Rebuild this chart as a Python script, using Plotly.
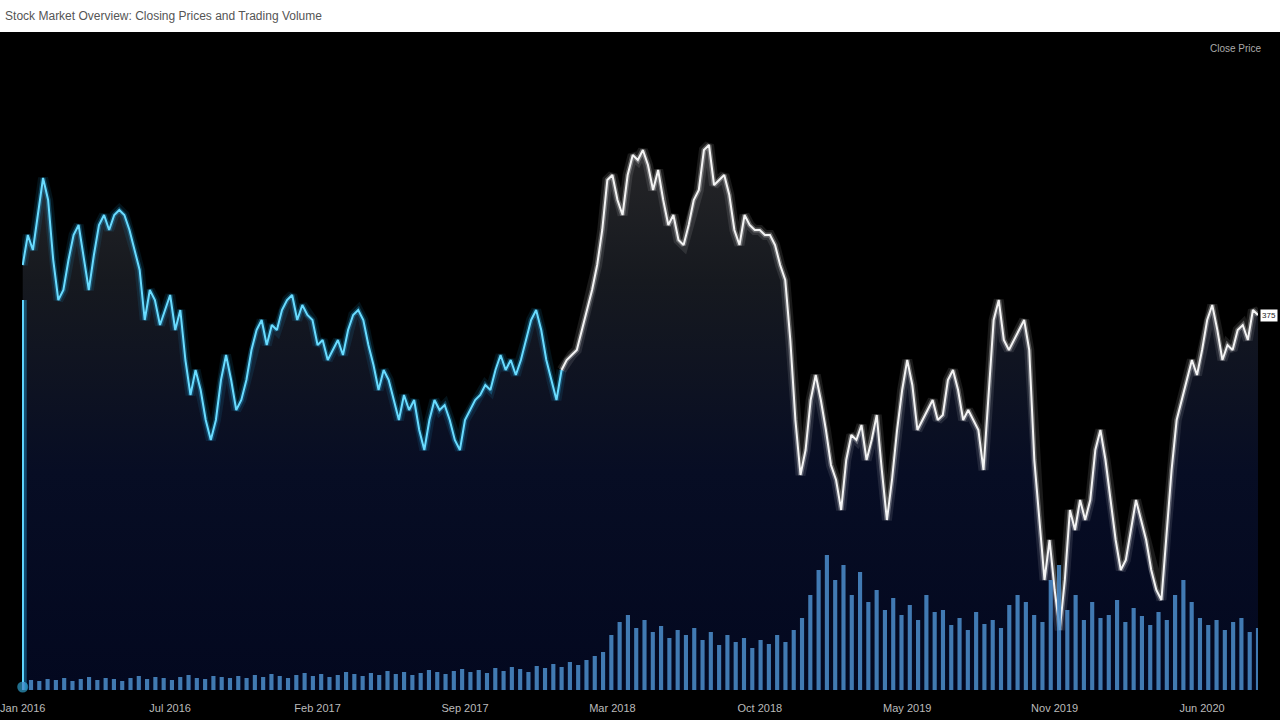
import pandas as pd
import plotly.graph_objects as go

title_text = "Stock Market Overview: Closing Prices and Trading Volume"
legend_text = "Close Price"

price = [
    425, 455, 440, 475, 512, 490, 430, 390, 400, 430, 455, 465, 430, 400, 435, 465, 475, 460, 475, 480,
    475, 460, 440, 420, 370, 400, 390, 365, 380, 395, 360, 380, 330, 295, 320, 300, 270, 250, 270, 310,
    335, 310, 280, 290, 310, 340, 360, 370, 345, 365, 360, 380, 390, 395, 370, 385, 375, 370, 345, 350,
    330, 340, 350, 335, 360, 375, 380, 370, 345, 325, 300, 320, 310, 290, 270, 295, 280, 290, 260, 240,
    270, 290, 280, 285, 270, 250, 240, 270, 280, 290, 295, 305, 300, 320, 335, 320, 330, 315, 330, 350,
    370, 380, 360, 330, 310, 290, 320, 330, 335, 340, 360, 380, 400, 425, 460, 510, 515, 490, 475, 515,
    535, 530, 540, 525, 500, 520, 490, 465, 475, 450, 445, 465, 490, 500, 540, 545, 505, 510, 515, 495,
    460, 445, 475, 465, 460, 460, 455, 455, 445, 425, 410, 350, 270, 215, 240, 290, 315, 290, 260, 225,
    210, 180, 230, 255, 250, 265, 230, 250, 275, 220, 170, 210, 260, 300, 330, 305, 260, 270, 280, 290,
    270, 275, 310, 320, 300, 270, 280, 270, 260, 220, 290, 370, 390, 350, 340, 350, 360, 370, 340, 230,
    170, 110, 150, 100, 60, 110, 180, 160, 190, 170, 190, 240, 260, 230, 190, 150, 120, 130, 160, 190,
    170, 150, 120, 100, 90, 160, 220, 270, 290, 310, 330, 315, 340, 370, 385, 360, 330, 345, 340, 360,
    365, 350, 380, 375,
]

volume = [
    8, 10, 9, 11, 10, 12, 9, 11, 13, 10, 12, 11, 9, 12, 14, 11, 13, 12, 10, 13, 15, 12, 11, 14, 13, 12,
    14, 12, 15, 13, 16, 14, 12, 15, 17, 14, 16, 13, 15, 18, 16, 14, 17, 15, 19, 16, 18, 15, 17, 20, 18,
    16, 19, 21, 18, 20, 17, 22, 19, 23, 21, 18, 24, 22, 26, 23, 28, 25, 30, 34, 38,
    55, 68, 75, 62, 70, 58, 64, 52, 60, 55,
    62, 50, 58, 45, 55, 48, 52, 42, 50, 46,
    55, 48, 60, 72, 95, 120, 135, 110, 125, 95,
    118, 88, 100, 80, 92, 75, 85, 70, 95, 78,
    80, 65, 72, 60, 78, 66, 70, 62, 85, 95,
    88, 75, 68, 110, 125, 80, 95, 70, 88, 72,
    75, 90, 68, 82, 74, 65, 78, 70, 95, 110,
    88, 72, 65, 70, 60, 68, 72, 58, 62,
]

split_index = 106  # colour change from cyan to white

dates = pd.date_range("2016-01-04", periods=len(price), freq="W-MON")
vol_dates = pd.date_range(dates[0], dates[-1], periods=len(volume))
tick_step = 29
tick_vals = [dates[k * tick_step] for k in range(9) if k * tick_step < len(dates)]
tick_text = [d.strftime("%b %Y") for d in tick_vals]

fig = go.Figure()

# volume bars
fig.add_trace(go.Bar(
    x=vol_dates, y=volume, yaxis="y2",
    marker=dict(color="rgba(76,142,204,0.85)", line=dict(width=0)),
    hoverinfo="skip", showlegend=False,
))

# area fill with gradient
fig.add_trace(go.Scatter(
    x=dates, y=price, mode="lines", line=dict(width=0, color="rgba(0,0,0,0)"),
    fill="tozeroy",
    fillgradient=dict(type="vertical",
                      colorscale=[[0, "#03081f"], [0.4, "#070d24"], [0.75, "#16191f"], [1, "#262628"]]),
    hoverinfo="skip", showlegend=False,
))

# left vertical edge glow
fig.add_trace(go.Scatter(
    x=[dates[0], dates[0]], y=[0, price[0] - 35], mode="lines",
    line=dict(color="rgba(40,190,255,0.35)", width=8), hoverinfo="skip", showlegend=False,
    cliponaxis=False,
))
fig.add_trace(go.Scatter(
    x=[dates[0], dates[0]], y=[0, price[0] - 35], mode="lines",
    line=dict(color="#5fd6ff", width=2.5), hoverinfo="skip", showlegend=False,
    cliponaxis=False,
))

# cyan and white segments with glow
cx, cy = dates[:split_index + 1], price[:split_index + 1]
wx, wy = dates[split_index:], price[split_index:]
for w, a in [(10, 0.10), (5, 0.28)]:
    fig.add_trace(go.Scatter(x=cx, y=cy, mode="lines", line=dict(color=f"rgba(40,190,255,{a})", width=w),
                             hoverinfo="skip", showlegend=False))
    fig.add_trace(go.Scatter(x=wx, y=wy, mode="lines", line=dict(color=f"rgba(255,255,255,{a})", width=w),
                             hoverinfo="skip", showlegend=False))
fig.add_trace(go.Scatter(x=cx, y=cy, mode="lines", line=dict(color="#6adcff", width=2),
                         name=legend_text, showlegend=False))
fig.add_trace(go.Scatter(x=wx, y=wy, mode="lines", line=dict(color="#f4f4f4", width=2),
                         name=legend_text, showlegend=False))

# glowing start dot
fig.add_trace(go.Scatter(x=[dates[0]], y=[3], mode="markers", cliponaxis=False,
                         marker=dict(size=11, color="rgba(60,200,255,0.55)", line=dict(width=0)),
                         hoverinfo="skip", showlegend=False))

fig.update_layout(
    width=1280, height=720,
    paper_bgcolor="#000000", plot_bgcolor="#000000",
    margin=dict(l=22, r=22, t=32, b=30),
    title=dict(text=title_text, x=0.004, xanchor="left", y=0.978, yanchor="middle",
               font=dict(family="Liberation Sans, Arial", size=12, color="#555555")),
    xaxis=dict(range=[dates[0] - pd.Timedelta(days=1), dates[-1]], showgrid=False, zeroline=False, showline=False,
               tickvals=tick_vals, ticktext=tick_text, ticks="", automargin=False, ticklabelstandoff=10,
               tickfont=dict(family="Liberation Sans, Arial", size=11, color="#bbbbbb")),
    yaxis=dict(range=[0, 658], showgrid=False, zeroline=False, showticklabels=False, automargin=False),
    yaxis2=dict(range=[0, 658], overlaying="y", showgrid=False, zeroline=False, showticklabels=False),
    bargap=0.5,
    shapes=[dict(type="rect", xref="paper", yref="paper", x0=-0.05, x1=1.05, y0=1.0, y1=1.06,
                 fillcolor="#ffffff", line=dict(width=0), layer="above")],
    annotations=[
        dict(text=legend_text, xref="paper", yref="paper", x=1.0, y=0.975, xanchor="right", yanchor="middle",
             xshift=6, showarrow=False, font=dict(family="Liberation Sans, Arial", size=10, color="#aaaaaa")),
        dict(text=f"{price[-1]}", x=dates[-1], y=price[-1], xref="x", yref="y", xanchor="left", yanchor="middle",
             xshift=2, showarrow=False, bgcolor="#ffffff", borderpad=1,
             font=dict(family="Liberation Sans, Arial", size=8, color="#222222")),
    ],
)

fig.write_html("out.html", config={"displayModeBar": False},
               post_script="document.body.style.margin='0';document.body.style.background='#000';")
